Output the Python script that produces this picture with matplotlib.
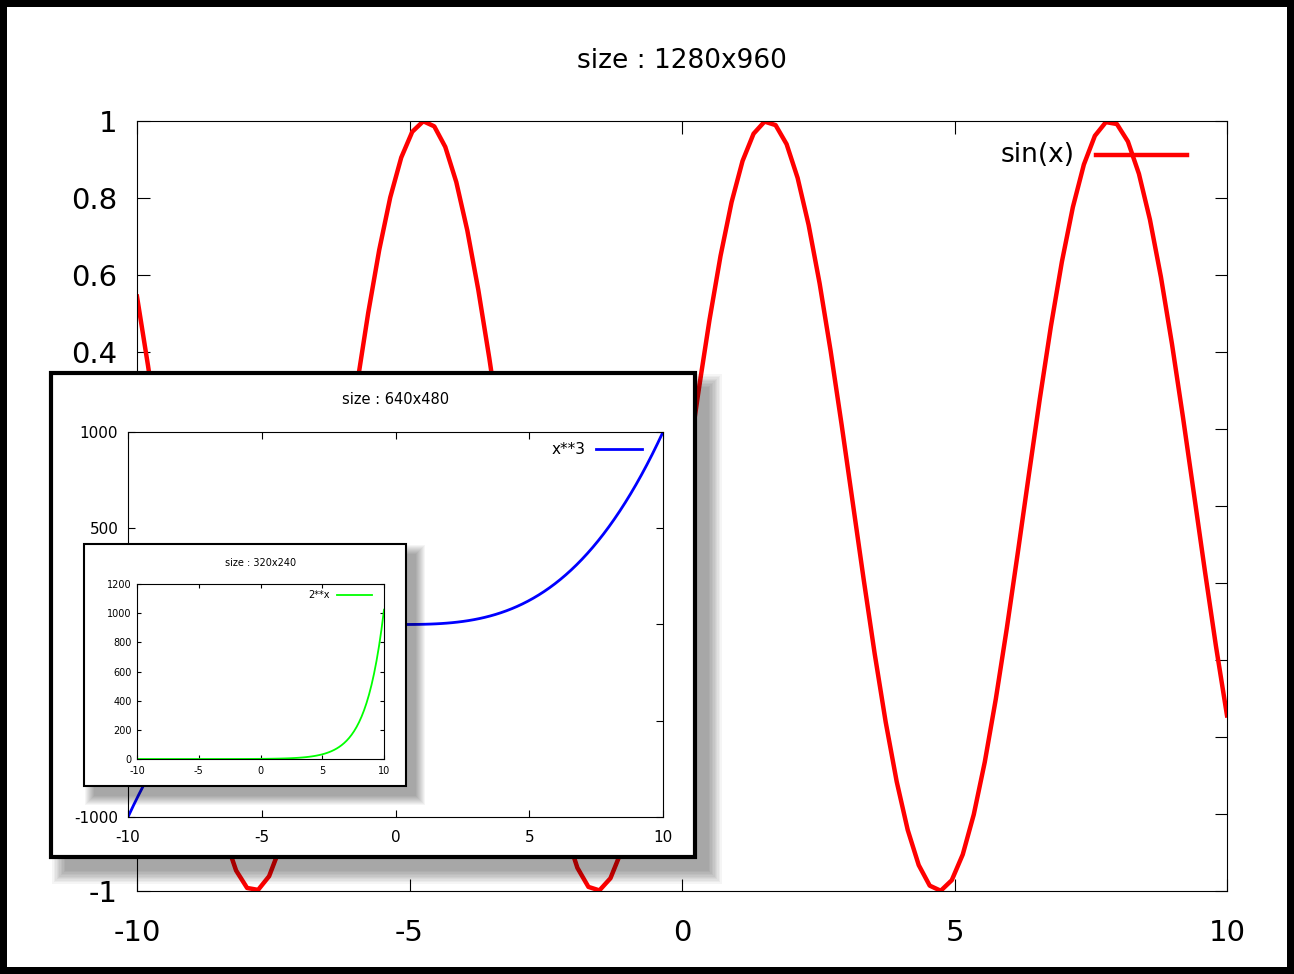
import numpy as np
import matplotlib
matplotlib.use("Agg")
import matplotlib.pyplot as plt
from matplotlib.patches import Rectangle

plt.rcParams['axes.unicode_minus'] = False

W, H = 1294, 974
x_main = np.linspace(-10, 10, 100)
y_main = np.sin(x_main)
x_in = np.linspace(-10, 10, 100)
y_in1 = x_in**3
y_in2 = 2.0**x_in

main_xticks = [-10, -5, 0, 5, 10]
main_yticks = [-1, -0.8, -0.6, -0.4, -0.2, 0, 0.2, 0.4, 0.6, 0.8, 1]
main_ylabels = ["-1", "-0.8", "-0.6", "-0.4", "-0.2", "0", "0.2", "0.4", "0.6", "0.8", "1"]
in1_yticks = [-1000, -500, 0, 500, 1000]
in2_yticks = [0, 200, 400, 600, 800, 1000, 1200]

fig = plt.figure(figsize=(W/100, H/100), dpi=100, facecolor="black")

def rect(x0, y0, x1, y1):
    return [x0/W, 1-y1/H, (x1-x0)/W, (y1-y0)/H]

fig.patches.append(Rectangle((7/W, 7/H), 1280/W, 960/H, transform=fig.transFigure,
                             facecolor="white", edgecolor="none", zorder=0))

def style(ax, fs, tl, pad, xpad):
    ax.tick_params(direction="in", top=True, right=True, length=tl, width=0.8,
                   labelsize=fs, pad=pad)
    ax.tick_params(axis="x", pad=xpad)
    for s in ax.spines.values():
        s.set_linewidth(0.8)

# main
ax = fig.add_axes(rect(137, 121, 1227, 891), zorder=1)
ax.plot(x_main, y_main, color="red", lw=3.2)
ax.set_xlim(-10, 10); ax.set_ylim(-1, 1)
ax.set_xticks(main_xticks); ax.set_yticks(main_yticks)
ax.set_yticklabels(main_ylabels)
style(ax, 21, 9, 14, 20)
ax.set_title("size : 1280x960", fontsize=19, pad=38)
ax.text(0.86, 0.956, "sin(x)", transform=ax.transAxes, fontsize=19, ha="right", va="center")
ax.plot([0.88, 0.963], [0.956, 0.956], transform=ax.transAxes, color="red", lw=3.2)

def box(x0, y0, x1, y1, z, lw, off):
    b = fig.add_axes(rect(x0, y0, x1 + 40, y1 + 40), zorder=z)
    b.axis("off"); b.patch.set_alpha(0)
    n = 10
    for i in range(n):
        e = off * (i / n)
        b.add_patch(Rectangle(((x0 + off - e)/W, 1-(y1 + off + e)/H),
                              (x1-x0+2*e)/W, (y1-y0+2*e)/H,
                              transform=fig.transFigure, facecolor="black", alpha=0.04,
                              edgecolor="none", clip_on=False))
    b.add_patch(Rectangle((x0/W, 1-y1/H), (x1-x0)/W, (y1-y0)/H, transform=fig.transFigure,
                          facecolor="white", edgecolor="black", lw=lw, clip_on=False))

box(51, 373, 695, 857, 2, 3, 14)
a1 = fig.add_axes(rect(128, 432, 663, 817), zorder=3)
a1.plot(x_in, y_in1, color="blue", lw=2)
a1.set_xlim(-10, 10); a1.set_ylim(-1000, 1000)
a1.set_xticks(main_xticks); a1.set_yticks(in1_yticks)
style(a1, 11, 5, 7, 9)
a1.set_title("size : 640x480", fontsize=10.5, pad=20)
a1.text(0.855, 0.955, "x**3", transform=a1.transAxes, fontsize=11, ha="right", va="center")
a1.plot([0.875, 0.96], [0.955, 0.955], transform=a1.transAxes, color="blue", lw=2)

box(84, 544, 406, 786, 4, 1.5, 10)
a2 = fig.add_axes(rect(137, 584, 384, 759), zorder=5)
a2.plot(x_in, y_in2, color="#00ff00", lw=1.3)
a2.set_xlim(-10, 10); a2.set_ylim(0, 1200)
a2.set_xticks(main_xticks); a2.set_yticks(in2_yticks)
style(a2, 7, 3, 4, 5)
a2.set_title("size : 320x240", fontsize=7, pad=13)
a2.text(0.78, 0.94, "2**x", transform=a2.transAxes, fontsize=7, ha="right", va="center")
a2.plot([0.81, 0.95], [0.94, 0.94], transform=a2.transAxes, color="#00ff00", lw=1.3)

fig.savefig("out.png", dpi=100, facecolor="black")
